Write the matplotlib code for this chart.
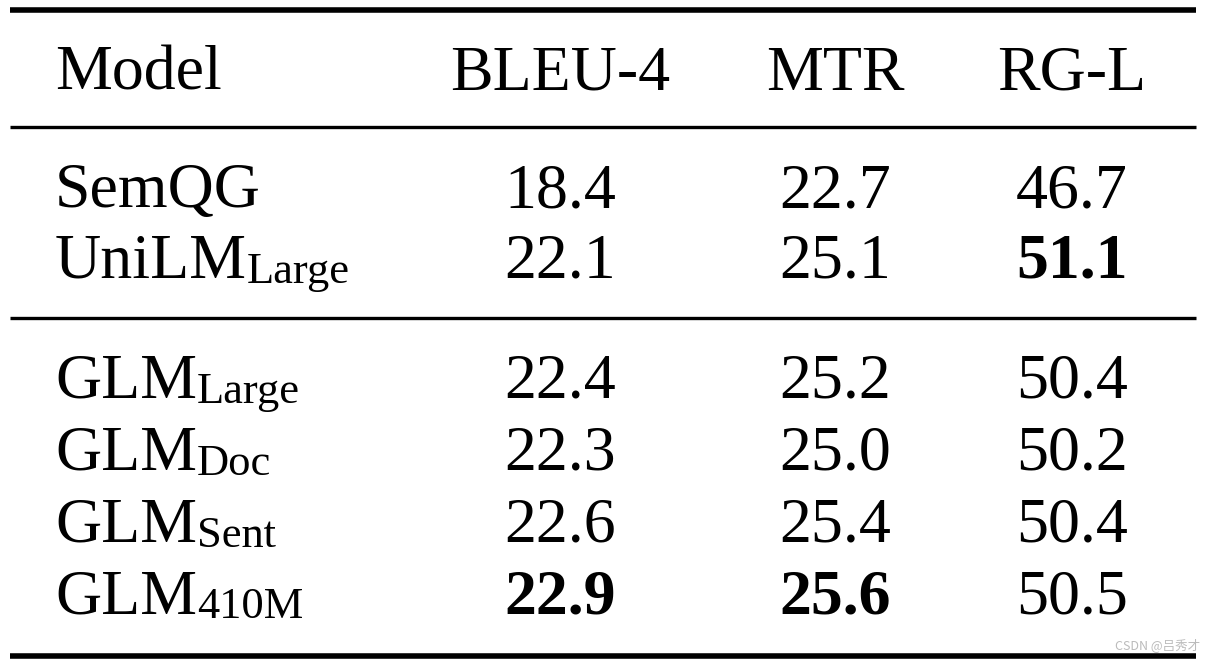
import matplotlib
matplotlib.use("Agg")
import matplotlib.pyplot as plt

headers = ["Model", "BLEU-4", "MTR", "RG-L"]
model_names = ["SemQG", "UniLM", "GLM", "GLM", "GLM", "GLM"]
model_subs = ["", "Large", "Large", "Doc", "Sent", "410M"]
bleu = [18.4, 22.1, 22.4, 22.3, 22.6, 22.9]
mtr = [22.7, 25.1, 25.2, 25.0, 25.4, 25.6]
rgl = [46.7, 51.1, 50.4, 50.2, 50.4, 50.5]

W, H = 1211, 666
fig = plt.figure(figsize=(W/100, H/100), dpi=100)
ax = fig.add_axes([0, 0, 1, 1])
ax.set_xlim(0, W); ax.set_ylim(H, 0); ax.axis("off")
font = "Liberation Serif"
fs = 46

col_x = [55, 560, 835, 1072]
ax.hlines(10, 10, 1196, color="black", lw=4)
ax.hlines(127, 10, 1196, color="black", lw=2.4)
ax.hlines(318, 10, 1196, color="black", lw=2.4)
ax.hlines(656, 10, 1196, color="black", lw=4)

for i, h in enumerate(headers):
    ax.text(col_x[i], 90, h, fontsize=fs, family=font, ha="left" if i == 0 else "center", va="baseline")

row_y = [207, 278, 398, 470, 542, 613]
cols = [bleu, mtr, rgl]
for r, y in enumerate(row_y):
    t = ax.text(col_x[0], y, model_names[r], fontsize=fs, family=font, ha="left", va="baseline")
    if model_subs[r]:
        ax.annotate(model_subs[r], xy=(1, 0), xycoords=t, xytext=(0, 0), textcoords="offset points",
                    fontsize=32, family=font, ha="left", va="bottom")
    for c, vals in enumerate(cols):
        bold = vals[r] == max(vals)
        ax.text(col_x[c+1], y, f"{vals[r]:.1f}", fontsize=fs, family=font, ha="center", va="baseline",
                fontweight="bold" if bold else "normal")

ax.text(1200, 652, "CSDN @吕秀才", fontsize=9, color="#bbbbbb", ha="right", va="bottom",
        family=["Noto Sans CJK SC", "DejaVu Sans"])
fig.savefig("out.png", dpi=100)
